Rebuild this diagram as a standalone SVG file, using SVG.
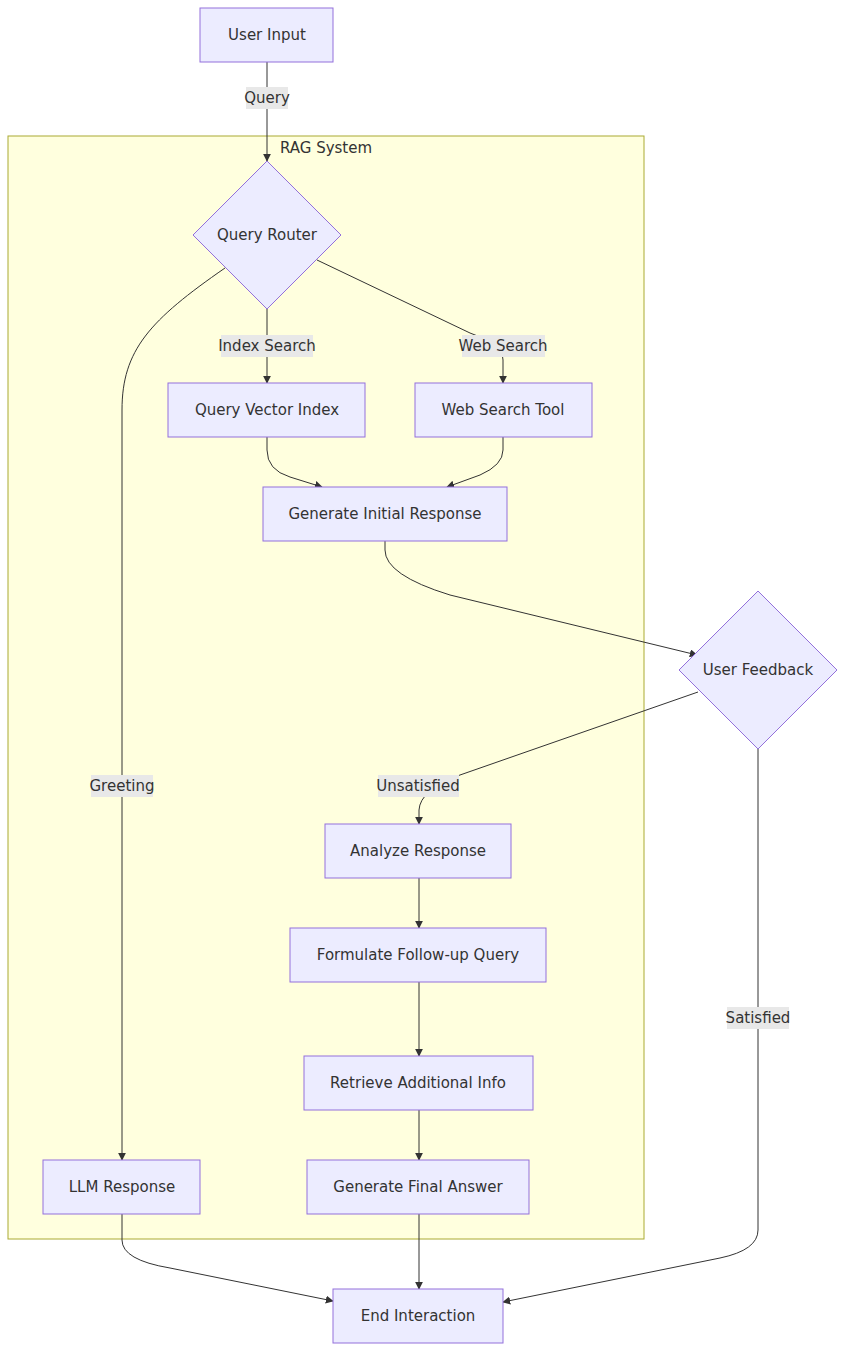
<svg xmlns="http://www.w3.org/2000/svg" width="846" height="1351" viewBox="0 0 846 1351">
<defs>
<marker id="ah" viewBox="0 0 10 10" refX="9" refY="5" markerWidth="8" markerHeight="8" orient="auto-start-reverse"><path d="M0,0 L10,5 L0,10 z" fill="#333"/></marker>
<style>
.n{fill:#ececff;stroke:#9370db;stroke-width:1}
.t{font-family:"DejaVu Sans",sans-serif;font-size:15px;fill:#333;text-anchor:middle;dominant-baseline:central}
.e{fill:none;stroke:#333;stroke-width:1;marker-end:url(#ah)}
.lb{fill:#e8e8e8}
</style>
</defs>
<rect width="846" height="1351" fill="#fff"/>
<g id="rag-system">
<rect x="8" y="136" width="636" height="1103" fill="#ffffde" stroke="#aaaa33"/>
<text class="t" x="326" y="148">RAG System</text>
</g>
<g id="connectors">
<path class="e" d="M267,62 L267,161"/>
<path class="e" d="M267,309 L267,383"/>
<path class="e" d="M317,260 L470,333 Q503,345 503,360 L503,383"/>
<path class="e" d="M225,268 C150,320 122,350 122,410 L122,1160"/>
<path class="e" d="M267,437 L267,450 Q267,470 290,477 L322,487"/>
<path class="e" d="M503,437 L503,450 Q503,465 480,475 L447,487"/>
<path class="e" d="M385,541 L385,550 Q385,575 450,595 L697,655"/>
<path class="e" d="M698,692 L460,775 Q420,790 419,810 L419,824"/>
<path class="e" d="M758,749 L758,1230 Q758,1250 720,1258 L503,1302"/>
<path class="e" d="M419,878 L419,928"/>
<path class="e" d="M419,982 L419,1056"/>
<path class="e" d="M419,1110 L419,1160"/>
<path class="e" d="M419,1214 L419,1289"/>
<path class="e" d="M122,1214 L122,1240 Q122,1260 170,1268 L333,1301"/>
<rect class="lb" x="246" y="87" width="42" height="22"/><text class="t" x="267" y="98">Query</text>
<rect class="lb" x="221" y="335" width="92" height="22"/><text class="t" x="267" y="346">Index Search</text>
<rect class="lb" x="462" y="335" width="83" height="22"/><text class="t" x="503" y="346">Web Search</text>
<rect class="lb" x="91" y="775" width="62" height="22"/><text class="t" x="122" y="786">Greeting</text>
<rect class="lb" x="378" y="775" width="81" height="22"/><text class="t" x="418" y="786">Unsatisfied</text>
<rect class="lb" x="727" y="1007" width="62" height="22"/><text class="t" x="758" y="1018">Satisfied</text>
</g>
<g id="user-input"><rect class="n" x="200" y="8" width="133" height="54"/><text class="t" x="267" y="35">User Input</text></g>
<g id="query-router"><polygon class="n" points="267,161 341,235 267,309 193,235"/><text class="t" x="267" y="235">Query Router</text></g>
<g id="query-vector-index"><rect class="n" x="168" y="383" width="197" height="54"/><text class="t" x="267" y="410">Query Vector Index</text></g>
<g id="web-search-tool"><rect class="n" x="415" y="383" width="177" height="54"/><text class="t" x="503" y="410">Web Search Tool</text></g>
<g id="generate-initial-response"><rect class="n" x="263" y="487" width="244" height="54"/><text class="t" x="385" y="514">Generate Initial Response</text></g>
<g id="user-feedback"><polygon class="n" points="758,591 837,670 758,749 679,670"/><text class="t" x="758" y="670">User Feedback</text></g>
<g id="analyze-response"><rect class="n" x="325" y="824" width="186" height="54"/><text class="t" x="418" y="851">Analyze Response</text></g>
<g id="formulate-follow-up"><rect class="n" x="290" y="928" width="256" height="54"/><text class="t" x="418" y="955">Formulate Follow-up Query</text></g>
<g id="retrieve-additional"><rect class="n" x="304" y="1056" width="229" height="54"/><text class="t" x="418" y="1083">Retrieve Additional Info</text></g>
<g id="generate-final"><rect class="n" x="307" y="1160" width="222" height="54"/><text class="t" x="418" y="1187">Generate Final Answer</text></g>
<g id="llm-response"><rect class="n" x="43" y="1160" width="157" height="54"/><text class="t" x="122" y="1187">LLM Response</text></g>
<g id="end-interaction"><rect class="n" x="333" y="1289" width="170" height="54"/><text class="t" x="418" y="1316">End Interaction</text></g>
</svg>
